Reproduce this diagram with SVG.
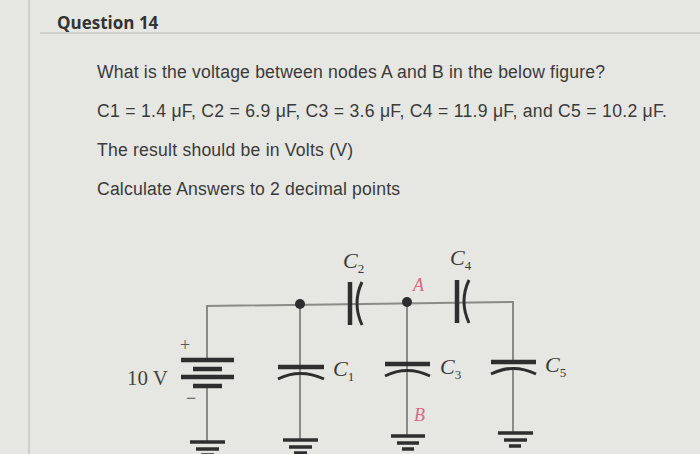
<svg xmlns="http://www.w3.org/2000/svg" width="700" height="454" viewBox="0 0 700 454">
<style>
.q{font-family:"Liberation Sans",Arial,sans-serif;font-size:17.6px;fill:#3a3a3a}
.w{stroke:#8a8a88;stroke-width:2;fill:none}
.p{stroke:#2e2e2e;stroke-width:4.5;fill:none}
.cv{stroke:#2e2e2e;stroke-width:3;fill:none}
.g{stroke:#2e2e2e;stroke-width:3.5}
.l{font-family:"Liberation Serif","Times New Roman",serif;font-style:italic;font-size:22px;fill:#3a3a3a}
.s{font-size:13px;font-style:normal}
.r{font-family:"Liberation Serif",serif;font-style:italic;font-size:18px;fill:#d86a86}
</style>
<rect width="700" height="454" fill="#e6e6e2"/>
<line x1="29" y1="0" x2="29" y2="454" stroke="#d0d0cc" stroke-width="2"/>
<line x1="40" y1="33" x2="700" y2="33" stroke="#d0d0cc" stroke-width="2"/>
<g id="header"><text x="57" y="29" font-family="'Open Sans',sans-serif" font-weight="bold" font-size="17" fill="#333">Question 14</text></g>
<g id="question">
<text class="q" x="97" y="78" textLength="508">What is the voltage between nodes A and B in the below figure?</text>
<text class="q" x="97" y="117" textLength="570">C1 = 1.4 μF,  C2 = 6.9 μF,  C3 = 3.6 μF,  C4 = 11.9 μF, and C5 = 10.2 μF.</text>
<text class="q" x="97" y="156" textLength="256">The result should be in Volts (V)</text>
<text class="q" x="97" y="195" textLength="303">Calculate Answers to 2 decimal points</text>
</g>
<g id="connectors">
<polyline class="w" points="207,360 207,306 513,302 513,362"/>
<line class="w" x1="207" y1="386" x2="207" y2="442"/>
<line class="w" x1="300" y1="304" x2="300" y2="440"/>
<line class="w" x1="407" y1="302" x2="407" y2="436"/>
<line class="w" x1="513" y1="368" x2="513" y2="433"/>
</g>
<g id="battery">
<line class="p" x1="181" y1="360" x2="234" y2="360"/>
<line class="p" x1="193" y1="369" x2="222" y2="369" stroke-width="5"/>
<line class="p" x1="181" y1="377" x2="234" y2="377"/>
<line class="p" x1="193" y1="386" x2="222" y2="386" stroke-width="5"/>
<text x="180" y="351" font-family="Liberation Serif,serif" font-size="18" fill="#555">+</text>
<text x="186" y="404" font-family="Liberation Serif,serif" font-size="18" fill="#555">−</text>
<text x="127" y="385" font-family="Liberation Serif,serif" font-size="21" fill="#444">10 V</text>
<line class="g" x1="190" y1="442" x2="225" y2="442"/><line class="g" x1="196" y1="449" x2="219" y2="449"/><line class="g" x1="201" y1="455" x2="214" y2="455"/>
</g>
<g id="n1"><circle cx="300" cy="304" r="5" fill="#2e2e2e"/></g>
<g id="nA"><circle cx="407" cy="302" r="5" fill="#2e2e2e"/><text class="r" x="413" y="291">A</text></g>
<g id="C2">
<line class="p" x1="350" y1="282" x2="350" y2="325"/>
<path class="cv" d="M362,282 Q352,303 362,325"/>
<text class="l" x="343" y="268">C<tspan class="s" dy="5">2</tspan></text>
</g>
<g id="C4">
<line class="p" x1="457" y1="280" x2="457" y2="323"/>
<path class="cv" d="M469,280 Q459,301 469,323"/>
<text class="l" x="450" y="265">C<tspan class="s" dy="5">4</tspan></text>
</g>
<g id="C1">
<line class="p" x1="278" y1="367" x2="324" y2="367"/>
<path class="cv" d="M278,379 Q300,368 324,379"/>
<text class="l" x="333" y="376">C<tspan class="s" dy="5">1</tspan></text>
<line class="g" x1="283" y1="440" x2="318" y2="440"/><line class="g" x1="289" y1="447" x2="312" y2="447"/><line class="g" x1="294" y1="453" x2="307" y2="453"/>
</g>
<g id="C3">
<line class="p" x1="385" y1="364" x2="430" y2="364"/>
<path class="cv" d="M385,376 Q407,365 430,376"/>
<text class="l" x="440" y="374">C<tspan class="s" dy="5">3</tspan></text>
<text class="r" x="414" y="421">B</text>
<line class="g" x1="391" y1="436" x2="425" y2="436"/><line class="g" x1="397" y1="443" x2="419" y2="443"/><line class="g" x1="402" y1="449" x2="414" y2="449"/>
</g>
<g id="C5">
<line class="p" x1="491" y1="362" x2="536" y2="362"/>
<path class="cv" d="M491,374 Q513,363 536,374"/>
<text class="l" x="545" y="372">C<tspan class="s" dy="5">5</tspan></text>
<line class="g" x1="498" y1="433" x2="533" y2="433"/><line class="g" x1="504" y1="440" x2="527" y2="440"/><line class="g" x1="509" y1="446" x2="521" y2="446"/>
</g>
</svg>
